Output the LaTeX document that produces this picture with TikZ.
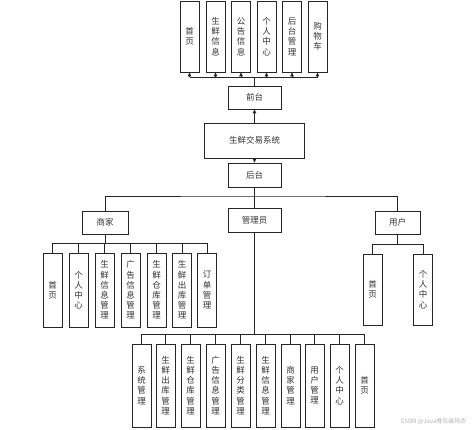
\documentclass[tikz,border=0pt]{standalone}
\usepackage{fontspec}
\newfontfamily\cjk{Noto Sans CJK SC}
\usetikzlibrary{arrows.meta}
\begin{document}
\begin{tikzpicture}[x=1pt,y=-1pt,
  every node/.style={font=\cjk\fontsize{8.5}{10.2}\selectfont, text=black!80},
  box/.style={draw=black!85, line width=0.8pt, inner sep=0pt, align=center, fill=white},
  vbox/.style={box, minimum width=19pt},
  link/.style={draw=black!85, line width=0.8pt},
  arr/.style={link, -{Triangle[length=4pt,width=3.6pt]}}
]
\useasboundingbox (0,0) rectangle (474,430);
\fill[white] (0,0) rectangle (474,430);

% top (front-end) modules
\foreach \n/\x/\t in {t1/189.5/首\\页, t2/215.5/生\\鲜\\信\\息, t3/241/公\\告\\信\\息,
  t4/266.5/个\\人\\中\\心, t5/292/后\\台\\管\\理, t6/317.5/购\\物\\车}
  \node[vbox, minimum height=71pt] (\n) at (\x,36.5) {\t};

\node[box, minimum width=53pt, minimum height=23pt] (qian) at (254.5,97.5) {前台};
\node[box, minimum width=100pt, minimum height=35pt] (sys) at (254.5,140.5) {生鲜交易系统};
\node[box, minimum width=53pt, minimum height=24pt] (hou) at (254.5,175) {后台};

\node[box, minimum width=46pt, minimum height=23pt] (shang) at (105,222.5) {商家};
\node[box, minimum width=53pt, minimum height=24pt] (guan) at (254.5,220) {管理员};
\node[box, minimum width=45pt, minimum height=23pt] (yong) at (397.5,222.5) {用户};

% merchant modules
\foreach \n/\x/\t in {m1/52.5/首\\页, m2/78.5/个\\人\\中\\心, m3/104.5/生\\鲜\\信\\息\\管\\理,
  m4/130.5/广\\告\\信\\息\\管\\理, m5/156.5/生\\鲜\\仓\\库\\管\\理, m6/182/生\\鲜\\出\\库\\管\\理,
  m7/207/订\\单\\管\\理}
  \node[vbox, minimum height=74pt] (\n) at (\x,290) {\t};

% user modules
\foreach \n/\x/\t in {u1/372.5/首\\页, u2/423/个\\人\\中\\心}
  \node[vbox, minimum height=71pt] (\n) at (\x,289.5) {\t};

% admin modules
\foreach \n/\x/\t in {a1/141.5/系\\统\\管\\理, a2/165.5/生\\鲜\\出\\库\\管\\理, a3/190.5/生\\鲜\\仓\\库\\管\\理,
  a4/215.5/广\\告\\信\\息\\管\\理, a5/240.5/生\\鲜\\分\\类\\管\\理, a6/265.5/生\\鲜\\信\\息\\管\\理,
  a7/290.5/商\\家\\管\\理, a8/314.5/用\\户\\管\\理, a9/339.5/个\\人\\中\\心, a10/364.5/首\\页}
  \node[vbox, minimum height=83pt] (\n) at (\x,385.5) {\t};

% bus coordinates
\coordinate (busT) at (254.5,77);
\coordinate (busB) at (254.5,196);
\coordinate (busM) at (105,243);
\coordinate (busU) at (397.5,244);
\coordinate (busA) at (254.5,334);

% front-end connections
\draw[link] (qian.north) -- (busT);
\draw[link] (t1.south |- busT) -- (t6.south |- busT);
\foreach \n in {t1,t2,t3,t4,t5,t6}
  \draw[arr] (\n.south |- busT) -- (\n.south);
\draw[arr] (sys.north) -- (qian.south);
\draw[arr] (sys.south) -- (hou.north);

% back-end
\draw[link] (hou.south) -- (busB);
\draw[link] (shang.north) |- (busB) -| (yong.north);
\draw[link] (guan.north) -- (busB);

% merchant
\draw[link] (shang.south) -- (busM);
\draw[link] (m1.north |- busM) -- (m7.north |- busM);
\foreach \n in {m1,m2,m3,m4,m5,m6,m7}
  \draw[link] (\n.north |- busM) -- (\n.north);

% user
\draw[link] (yong.south) -- (busU);
\draw[link] (u1.north |- busU) -- (u2.north |- busU);
\foreach \n in {u1,u2}
  \draw[link] (\n.north |- busU) -- (\n.north);

% admin
\draw[link] (guan.south) -- (busA);
\draw[link] (a1.north |- busA) -- (a10.north |- busA);
\foreach \n in {a1,a2,a3,a4,a5,a6,a7,a8,a9,a10}
  \draw[link] (\n.north |- busA) -- (\n.north);

\node[font=\cjk\fontsize{6}{7}\selectfont, text=black!30, anchor=east] (wm) at (470,421) {CSDN @Java骨灰级码农};
\end{tikzpicture}
\end{document}
